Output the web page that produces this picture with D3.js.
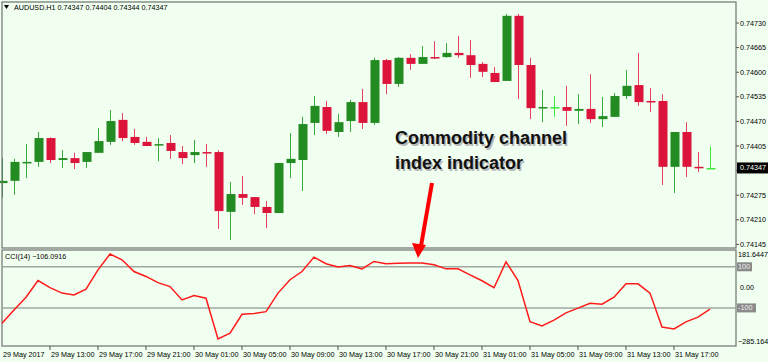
<!DOCTYPE html>
<html>
<head>
<meta charset="utf-8">
<script src="https://cdn.jsdelivr.net/npm/d3@7"></script>
<style>
  body { margin: 0; background: #f0fff0; }
  svg { display: block; font-family: "Liberation Sans", Arial, sans-serif; }
</style>
</head>
<body>
<script>
// AUDUSD H1 bars, 29 May 09:00 .. 31 May 20:00
var open = [0.74307,0.74313,0.74362,0.74363,0.74426,0.74368,0.74373,0.74363,0.74387,0.74416,
  0.74474,0.74429,0.74416,0.74409,0.74413,0.74389,0.74381,0.74389,0.74389,0.74231,
  0.74278,0.74270,0.74244,0.74228,0.74360,0.74368,0.74466,0.74508,0.74442,0.74471,
  0.74521,0.74466,0.74632,0.74569,0.74638,0.74622,0.74640,0.74640,0.74651,0.74645,
  0.74622,0.74598,0.74577,0.74749,0.74619,0.74505,0.74508,0.74508,0.74498,0.74503,
  0.74476,0.74482,0.74537,0.74566,0.74524,0.74524,0.74350,0.74442,0.74350,0.74347];
var high = [0.74373,0.74371,0.74410,0.74442,0.74428,0.74394,0.74387,0.74389,0.74453,0.74500,
  0.74492,0.74450,0.74429,0.74426,0.74434,0.74405,0.74421,0.74410,0.74394,0.74310,
  0.74326,0.74270,0.74260,0.74360,0.74439,0.74482,0.74537,0.74524,0.74490,0.74527,
  0.74556,0.74638,0.74635,0.74640,0.74648,0.74669,0.74682,0.74677,0.74696,0.74685,
  0.74627,0.74614,0.74754,0.74754,0.74638,0.74553,0.74537,0.74564,0.74542,0.74595,
  0.74535,0.74545,0.74606,0.74651,0.74558,0.74542,0.74442,0.74468,0.74389,0.74404];
var low = [0.74268,0.74276,0.74320,0.74350,0.74360,0.74347,0.74344,0.74347,0.74387,0.74408,
  0.74418,0.74408,0.74405,0.74365,0.74371,0.74357,0.74360,0.74350,0.74186,0.74157,
  0.74249,0.74225,0.74188,0.74228,0.74320,0.74286,0.74434,0.74437,0.74429,0.74442,
  0.74450,0.74461,0.74542,0.74561,0.74606,0.74622,0.74635,0.74638,0.74638,0.74585,
  0.74587,0.74574,0.74577,0.74529,0.74476,0.74468,0.74482,0.74458,0.74463,0.74466,
  0.74455,0.74482,0.74529,0.74511,0.74495,0.74302,0.74281,0.74323,0.74336,0.74344];
var close = [0.74313,0.74363,0.74363,0.74426,0.74368,0.74373,0.74360,0.74389,0.74418,0.74471,
  0.74426,0.74413,0.74405,0.74410,0.74392,0.74373,0.74389,0.74387,0.74233,0.74278,
  0.74268,0.74244,0.74228,0.74360,0.74371,0.74463,0.74511,0.74445,0.74468,0.74521,
  0.74466,0.74632,0.74569,0.74638,0.74622,0.74640,0.74638,0.74651,0.74645,0.74619,
  0.74601,0.74574,0.74749,0.74619,0.74505,0.74508,0.74508,0.74498,0.74503,0.74476,
  0.74484,0.74537,0.74564,0.74521,0.74521,0.74350,0.74442,0.74350,0.74347,0.74347];

var cci = [-175,-110,-48,33,-1,-28,-37,-9,85,162,
  134,77,53,23,4,-61,-40,-53,-251,-223,
  -131,-127,-118,-28,37,77,147,115,99,106,
  90,126,115,117,118,118,110,90,90,61,
  32,-2,124,33,-167,-188,-159,-124,-101,-77,
  -82,-48,17,17,-28,-193,-202,-168,-145,-106.0916];

var priceTicks = [0.74730,0.74665,0.74600,0.74535,0.74470,0.74405,0.74340,0.74275,0.74210,0.74145];
var priceRange = [0.741355, 0.747855];
var cciRange = [-285.1642, 181.6447];
var cciLevels = [100, -100];
var timeLabels = ["29 May 2017","29 May 13:00","29 May 17:00","29 May 21:00","30 May 01:00",
  "30 May 05:00","30 May 09:00","30 May 13:00","30 May 17:00","30 May 21:00","31 May 01:00",
  "31 May 05:00","31 May 09:00","31 May 13:00","31 May 17:00"];
var labelEvery = 4;

var W = 768, H = 362;
var left = 2, right = 736, mainTop = 2, mainBot = 248, cciTop = 250, cciBot = 346;
var n = open.length;

var svg = d3.select("body").append("svg")
    .attr("width", W)
    .attr("height", H);

svg.append("rect").attr("width", W).attr("height", H).attr("fill", "#f0fff0");

var x = d3.scaleLinear().domain([0, n - 1]).range([2, 710]);
var y = d3.scaleLinear().domain(priceRange).range([mainBot, mainTop]);
var yc = d3.scaleLinear().domain(cciRange).range([cciBot, cciTop]);

var up = "#228b22", dn = "#dc143c", flat = "#3ee83e";

// candles
var bars = svg.append("g").selectAll("g")
    .data(d3.range(n))
    .enter().append("g");

function col(i) {
    if (open[i] == close[i]) return flat;
    return close[i] > open[i] ? up : dn;
}
function wickCol(i) {
    if (open[i] == close[i]) return flat;
    return close[i] > open[i] ? "#3aaa3a" : "#e8405e";
}

bars.append("line")
    .attr("x1", function(i) { return x(i) + 0.5; })
    .attr("x2", function(i) { return x(i) + 0.5; })
    .attr("y1", function(i) { return y(high[i]); })
    .attr("y2", function(i) { return y(low[i]); })
    .attr("stroke", wickCol)
    .attr("stroke-width", 1);

bars.append("rect")
    .attr("x", function(i) { return x(i) - 3.5; })
    .attr("width", 9)
    .attr("y", function(i) { return y(Math.max(open[i], close[i])); })
    .attr("height", function(i) {
        return Math.max(1.5, y(Math.min(open[i], close[i])) - y(Math.max(open[i], close[i])));
    })
    .attr("fill", col);

// frames
svg.append("rect").attr("x", left).attr("y", mainTop)
    .attr("width", right - left).attr("height", mainBot - mainTop)
    .attr("fill", "none").attr("stroke", "#707070").attr("stroke-width", 1.2);
svg.append("rect").attr("x", left).attr("y", cciTop)
    .attr("width", right - left).attr("height", cciBot - cciTop)
    .attr("fill", "none").attr("stroke", "#707070").attr("stroke-width", 1.2);

// price axis
var pa = svg.append("g").attr("font-size", 7.2).attr("fill", "#000");
priceTicks.forEach(function(p) {
    pa.append("line").attr("x1", right).attr("x2", right + 3)
        .attr("y1", y(p)).attr("y2", y(p)).attr("stroke", "#555");
    pa.append("text").attr("x", right + 4).attr("y", y(p)).attr("dy", "0.35em")
        .text(d3.format(".5f")(p));
});
var last = close[n - 1];
pa.append("rect").attr("x", right + 1).attr("y", y(last) - 5.5)
    .attr("width", W - right).attr("height", 11).attr("fill", "#000");
pa.append("text").attr("x", right + 4).attr("y", y(last)).attr("dy", "0.35em")
    .attr("fill", "#fff").text(d3.format(".5f")(last));

// CCI panel
cciLevels.forEach(function(v) {
    svg.append("line").attr("x1", left).attr("x2", right)
        .attr("y1", yc(v)).attr("y2", yc(v))
        .attr("stroke", "#a0a8a0").attr("stroke-width", 1.5);
});

var line = d3.line()
    .x(function(i) { return x(i); })
    .y(function(i) { return yc(cci[i]); });

svg.append("path").datum(d3.range(n))
    .attr("d", line)
    .attr("fill", "none")
    .attr("stroke", "#ff1a1a")
    .attr("stroke-width", 1.5);

var ca = svg.append("g").attr("font-size", 7.2);
ca.append("text").attr("x", right + 2).attr("y", cciTop + 4).attr("dy", "0.35em")
    .text(d3.format(".4f")(cciRange[1]));
ca.append("text").attr("x", right + 2).attr("y", yc(0)).attr("dy", "0.35em")
    .attr("x", right + 4).text("0.00");
ca.append("text").attr("x", right + 2).attr("y", cciBot - 5).attr("dy", "0.35em")
    .text(d3.format(".4f")(cciRange[0]));
cciLevels.forEach(function(v) {
    var t = String(v);
    ca.append("rect").attr("x", right + 1).attr("y", yc(v) - 4.5)
        .attr("width", t.length * 4 + 3).attr("height", 9).attr("fill", "#8a8a8a");
    ca.append("text").attr("x", right + 2).attr("y", yc(v)).attr("dy", "0.35em")
        .attr("fill", "#f0f0f0").text(t);
});

// time axis
var ta = svg.append("g").attr("font-size", 7.2);
timeLabels.forEach(function(t, j) {
    var xx = x(j * labelEvery);
    if (j > 0) ta.append("line").attr("x1", xx).attr("x2", xx)
        .attr("y1", cciBot).attr("y2", cciBot + 4).attr("stroke", "#555");
    ta.append("text").attr("x", xx + 1).attr("y", 354).attr("dy", "0.35em").text(t);
});

// headers
var f5 = d3.format(".5f");
svg.append("path").attr("d", "M4,5 L9,5 L6.5,9 Z").attr("fill", "#000");
svg.append("text").attr("x", 14).attr("y", 7).attr("dy", "0.35em").attr("font-size", 7.2)
    .text("AUDUSD.H1  " + f5(open[n - 1]) + " " + f5(high[n - 1]) + " " + f5(low[n - 1]) + " " + f5(close[n - 1]));
svg.append("text").attr("x", 5).attr("y", 256).attr("dy", "0.35em").attr("font-size", 7.2)
    .text("CCI(14) " + d3.format(".4f")(cci[n - 1]));

// annotation
var ann = ["Commodity channel", "index indicator"];
ann.forEach(function(t, j) {
    svg.append("text").attr("x", 396.5).attr("y", 144 + j * 25 + 1.5)
        .attr("font-size", 18).attr("font-weight", "bold").attr("fill", "#b8b8b8").text(t);
    svg.append("text").attr("x", 395).attr("y", 144 + j * 25)
        .attr("font-size", 18).attr("font-weight", "bold").attr("fill", "#111").text(t);
});
svg.append("line").attr("x1", 432).attr("y1", 183).attr("x2", 421).attr("y2", 246)
    .attr("stroke", "#ff0000").attr("stroke-width", 4);
svg.append("path").attr("d", "M412,243 L426,245 L418,258 Z").attr("fill", "#ff0000");
</script>
</body>
</html>
